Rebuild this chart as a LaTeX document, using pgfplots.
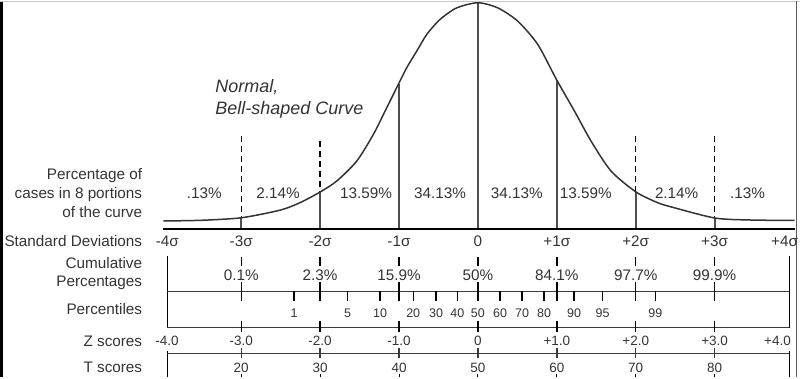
\documentclass[border=0pt]{standalone}
\usepackage{pgfplots}
\pgfplotsset{compat=1.18}
\usepackage{fontspec}
\setmainfont{Liberation Sans}
\definecolor{ink}{HTML}{333333}
\definecolor{ln}{HTML}{3A3A3A}
\tikzset{
  lab/.style={font=\fontsize{15.3bp}{18bp}\selectfont, text=ink, inner sep=0pt, anchor=base},
  labl/.style={lab, anchor=base east},
  pct/.style={font=\fontsize{12.5bp}{15bp}\selectfont, text=ink, inner sep=0pt, anchor=base},
  zt/.style={font=\fontsize{13.5bp}{16bp}\selectfont, text=ink, inner sep=0pt, anchor=base},
  ttl/.style={font=\fontsize{18bp}{21bp}\selectfont\itshape, text=ink, inner sep=0pt, anchor=base west},
}
\begin{document}
\begin{tikzpicture}
\begin{axis}[width=800bp, height=376bp, scale only axis,
  xmin=-6.0506, xmax=4.0759, ymin=0, ymax=376, y dir=reverse,
  axis lines=none, clip=false, unbounded coords=jump,
  cycle list={{color=ln, mark=none, line width=1.6bp}},
  no markers,
]
% frame of the screenshot
\addplot[line width=2.5bp, black] coordinates {(-6.035,0) (-6.035,376)};
\addplot[line width=1bp, gray!45] coordinates {(-6.0506,0.5) (4.0759,0.5)};
\addplot[line width=1bp, gray!70!black] coordinates {(4.038,0) (4.038,376)};

% solid verticals from the curve down to the base line
\addplot+[line width=1.8bp, color=ln!90] coordinates {(-3,217) (-3,228) (0,nan) (-2,191) (-2,228) (0,nan)
  (-1,83.3) (-1,228) (0,nan) (0,1.5) (0,228) (0,nan) (1,79) (1,228) (0,nan)
  (2,191) (2,228) (0,nan) (3,217) (3,228)};
% dashed verticals above the curve
\addplot+[dash pattern=on 6bp off 4bp, line width=1.4bp] coordinates {(-3,135) (-3,217) (0,nan)
  (-2,140) (-2,191) (0,nan) (2,135) (2,191) (0,nan) (3,135) (3,217)};
% base line under the curve
\addplot coordinates {(-3.987,228) (4.013,228)};
% the bell curve
\addplot[smooth, tension=0.45, line width=1.5bp, color=ink] coordinates {
  (-3.987,220) (-3.5,219.3) (-2.991,216.7) (-2.5,209) (-2.25,201.5)
  (-2.0,191) (-1.789,180) (-1.535,160) (-1.325,133.3) (-1.156,106.7)
  (-1.009,83.3) (-0.903,66.7) (-0.776,50) (-0.649,33.3) (-0.481,18.3)
  (-0.270,6.7) (0,1.5) (0.253,6.7) (0.506,20) (0.759,43.3) (1.0,79)
  (1.224,110) (1.434,140) (1.687,170) (2.004,191) (2.278,201.7)
  (2.430,205.5) (3.0,217) (3.443,219) (4.013,219.5)};

% scale frame: end verticals (broken around the Z score end labels)
\addplot coordinates {(-3.94,255) (-3.94,327.5) (0,nan) (-3.94,350) (-3.94,376) (0,nan)
  (3.94,255) (3.94,327.5) (0,nan) (3.94,350) (3.94,376)};
% cumulative percentage dashes
\addplot+[dash pattern=on 9bp off 16bp, line width=1.4bp] coordinates {
  (-3,256) (-3,290) (0,nan) (-2,256) (-2,290) (0,nan) (-1,256) (-1,290) (0,nan)
  (0,256) (0,290) (0,nan) (1,256) (1,290) (0,nan) (2,256) (2,290) (0,nan)
  (3,256) (3,290)};
% horizontal scale lines
\addplot coordinates {(-3.94,290) (3.94,290) (0,nan) (-3.94,326) (3.94,326)
  (0,nan) (-3.94,352) (3.94,352)};
% percentile ticks
\addplot+[line width=1.4bp] coordinates {
  (-3,290) (-3,300) (0,nan) (-2,290) (-2,300) (0,nan) (-1,290) (-1,300) (0,nan)
  (1,290) (1,300) (0,nan) (2,290) (2,300) (0,nan) (3,290) (3,300) (0,nan)
  (-2.33,290) (-2.33,300) (0,nan) (-1.65,290) (-1.65,300) (0,nan)
  (-1.24,290) (-1.24,300) (0,nan) (-0.82,290) (-0.82,300) (0,nan)
  (-0.53,290) (-0.53,300) (0,nan) (-0.26,290) (-0.26,300) (0,nan)
  (0,290) (0,300) (0,nan) (0.28,290) (0.28,300) (0,nan)
  (0.56,290) (0.56,300) (0,nan) (0.84,290) (0.84,300) (0,nan)
  (1.22,290) (1.22,300) (0,nan) (1.58,290) (1.58,300) (0,nan)
  (2.25,290) (2.25,300)};
% Z score ticks
\addplot+[line width=1.4bp] coordinates {
  (-3,320.5) (-3,331) (0,nan) (-2,320.5) (-2,331) (0,nan) (-1,320.5) (-1,331) (0,nan)
  (0,320.5) (0,331) (0,nan) (1,320.5) (1,331) (0,nan) (2,320.5) (2,331) (0,nan)
  (3,320.5) (3,331)};
% T score ticks
\addplot+[line width=1.4bp] coordinates {
  (-3,347.5) (-3,357) (0,nan) (-2,347.5) (-2,357) (0,nan) (-1,347.5) (-1,357) (0,nan)
  (0,347.5) (0,357) (0,nan) (1,347.5) (1,357) (0,nan) (2,347.5) (2,357) (0,nan)
  (3,347.5) (3,357)};
% small marks at the bottom
\addplot+[line width=1bp] coordinates {
  (-3,373) (-3,376) (0,nan) (-2,373) (-2,376) (0,nan) (-1,373) (-1,376) (0,nan)
  (0,373) (0,376) (0,nan) (1,373) (1,376) (0,nan) (2,373) (2,376) (0,nan)
  (3,373) (3,376)};

% title of the curve
\node[ttl] at (axis cs:-3.329,91.5) {Normal,};
\node[ttl] at (axis cs:-3.329,113) {Bell-shaped Curve};

% row labels
\node[labl] at (axis cs:-4.253,178.5) {Percentage of};
\node[labl] at (axis cs:-4.253,197.5) {cases in 8 portions};
\node[labl] at (axis cs:-4.253,216.5) {of the curve};
\node[labl] at (axis cs:-4.253,245.5) {Standard Deviations};
\node[labl] at (axis cs:-4.253,267.5) {Cumulative};
\node[labl] at (axis cs:-4.253,286) {Percentages};
\node[labl] at (axis cs:-4.253,313.5) {Percentiles};
\node[labl] at (axis cs:-4.253,345.5) {Z scores};
\node[labl] at (axis cs:-4.253,371.5) {T scores};

% percentages of cases
\node[lab] at (axis cs:-3.468,197.5) {.13\%};
\node[lab] at (axis cs:-2.532,197.5) {2.14\%};
\node[lab] at (axis cs:-1.418,197.5) {13.59\%};
\node[lab] at (axis cs:-0.481,197.5) {34.13\%};
\node[lab] at (axis cs:0.494,197.5) {34.13\%};
\node[lab] at (axis cs:1.367,197.5) {13.59\%};
\node[lab] at (axis cs:2.519,197.5) {2.14\%};
\node[lab] at (axis cs:3.418,197.5) {.13\%};

% standard deviations
\node[lab] at (axis cs:-3.937,245.5) {-4σ};
\node[lab] at (axis cs:-3,245.5) {-3σ};
\node[lab] at (axis cs:-2,245.5) {-2σ};
\node[lab] at (axis cs:-1,245.5) {-1σ};
\node[lab] at (axis cs:0,245.5) {0};
\node[lab] at (axis cs:1,245.5) {+1σ};
\node[lab] at (axis cs:2,245.5) {+2σ};
\node[lab] at (axis cs:3,245.5) {+3σ};
\node[lab] at (axis cs:3.886,245.5) {+4σ};

% cumulative percentages
\node[lab] at (axis cs:-3,279.5) {0.1\%};
\node[lab] at (axis cs:-2,279.5) {2.3\%};
\node[lab] at (axis cs:-1,279.5) {15.9\%};
\node[lab] at (axis cs:0,279.5) {50\%};
\node[lab] at (axis cs:1,279.5) {84.1\%};
\node[lab] at (axis cs:2,279.5) {97.7\%};
\node[lab] at (axis cs:3,279.5) {99.9\%};

% percentiles
\node[pct] at (axis cs:-2.33,316.5) {1};
\node[pct] at (axis cs:-1.65,316.5) {5};
\node[pct] at (axis cs:-1.24,316.5) {10};
\node[pct] at (axis cs:-0.82,316.5) {20};
\node[pct] at (axis cs:-0.53,316.5) {30};
\node[pct] at (axis cs:-0.26,316.5) {40};
\node[pct] at (axis cs:0,316.5) {50};
\node[pct] at (axis cs:0.28,316.5) {60};
\node[pct] at (axis cs:0.56,316.5) {70};
\node[pct] at (axis cs:0.84,316.5) {80};
\node[pct] at (axis cs:1.22,316.5) {90};
\node[pct] at (axis cs:1.58,316.5) {95};
\node[pct] at (axis cs:2.25,316.5) {99};

% Z scores
\node[zt] at (axis cs:-3.94,344.7) {-4.0};
\node[zt] at (axis cs:-3,344.7) {-3.0};
\node[zt] at (axis cs:-2,344.7) {-2.0};
\node[zt] at (axis cs:-1,344.7) {-1.0};
\node[zt] at (axis cs:0,344.7) {0};
\node[zt] at (axis cs:1,344.7) {+1.0};
\node[zt] at (axis cs:2,344.7) {+2.0};
\node[zt] at (axis cs:3,344.7) {+3.0};
\node[zt] at (axis cs:3.797,344.7) {+4.0};

% T scores
\node[zt] at (axis cs:-3,372) {20};
\node[zt] at (axis cs:-2,372) {30};
\node[zt] at (axis cs:-1,372) {40};
\node[zt] at (axis cs:0,372) {50};
\node[zt] at (axis cs:1,372) {60};
\node[zt] at (axis cs:2,372) {70};
\node[zt] at (axis cs:3,372) {80};
\end{axis}
\end{tikzpicture}
\end{document}
